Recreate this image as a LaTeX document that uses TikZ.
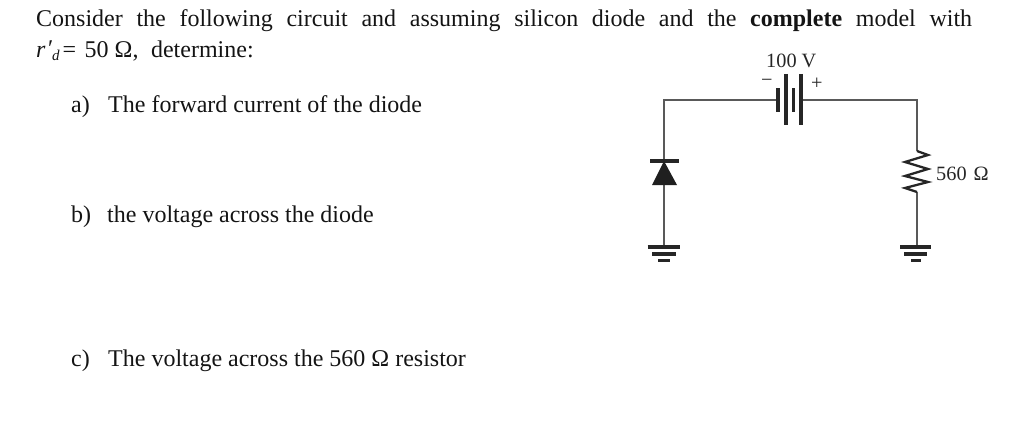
\documentclass[tikz,border=0pt]{standalone}
\usepackage{fontspec}
\setmainfont{Liberation Serif}
\tikzset{
  x=1pt,y=-1pt,
  txt/.style={inner sep=0pt,anchor=base west,font=\fontsize{24}{28}\selectfont,text=black!92},
  lbl/.style={inner sep=0pt,anchor=base west,font=\fontsize{20.3}{24}\selectfont,text=black!85},
  wire/.style={draw=black!65,line width=1.5pt},
  plate/.style={draw=black!85,line cap=butt},
  gnd/.style={draw=black!85,line width=3.6pt},
}
\begin{document}
\begin{tikzpicture}
\useasboundingbox (0,0) rectangle (1012,436);
\node[txt] (l1) at (36,27) {\hbox to 936pt{Consider\hfill the\hfill following\hfill circuit\hfill and\hfill assuming\hfill silicon\hfill diode\hfill and\hfill the\hfill \textbf{complete}\hfill model\hfill with}};
\node[txt] (l2) at (36,58) {\textit{r}\hspace{1pt}\raisebox{1pt}{\textit{\symbol{"2032}}}\raisebox{-2pt}{\fontsize{15}{15}\selectfont\textit{d}}\hspace{3pt}=\hspace{2.5pt} 50 Ω,\ \ \hspace{0.5pt}determine:};
\node[txt] (a) at (71,112) {a)};
\node[txt] (at) at (108,112) {The forward current of the diode};
\node[txt] (b) at (71,222) {b)};
\node[txt] (bt) at (107,222) {the voltage across the diode};
\node[txt] (c) at (71,366) {c)};
\node[txt] (ct) at (108,366) {The voltage across the 560 Ω resistor};
\node[lbl] (v) at (766,67) {100 V};
\node[lbl] (minus) at (761,87) {−};
\node[lbl] (plus) at (811,89) {+};
\node[lbl] (r) at (936,180) {560\hspace{2pt} Ω};
% reference points
\coordinate (batL) at (778,100);
\coordinate (batR) at (801,100);
\coordinate (tl) at (664,100);
\coordinate (tr) at (917,100);
\coordinate (dk) at (664,161);
\coordinate (da) at (664,185);
\coordinate (gl) at (664,247);
\coordinate (rt) at (917,151);
\coordinate (rb) at (917,192);
\coordinate (gr) at (917,247);
% wires
\draw[wire] (batL) -- (tl) -- (dk);
\draw[wire] (batR) -- (tr) -- (rt);
\draw[wire] (da) -- (gl);
\draw[wire] (rb) -- (gr);
% battery
\draw[plate,line width=4.5pt] (778,88) -- (778,112);
\draw[plate,line width=3.6pt] (786,74) -- (786,125);
\draw[plate,line width=3.6pt] (793.5,88) -- (793.5,112);
\draw[plate,line width=3.6pt] (801,74) -- (801,125);
% diode
\draw[gnd,line width=3.2pt] (650,161) -- (679,161);
\fill[black!88] (664,161) -- (677,185) -- (652,185) -- cycle;
% resistor
\draw[draw=black!85,line width=2.3pt,line join=miter] (rt) -- (928,155) -- (905,162) -- (928,169) -- (905,176) -- (928,182) -- (905,188) -- (rb);
% grounds
\draw[gnd] (647.5,247) -- (680,247);
\draw[gnd] (652,254) -- (676,254);
\draw[gnd] (658,260.5) -- (670,260.5);
\draw[gnd] (900,247) -- (931,247);
\draw[gnd] (904,254) -- (927,254);
\draw[gnd] (911,260.5) -- (921,260.5);
\end{tikzpicture}
\end{document}
